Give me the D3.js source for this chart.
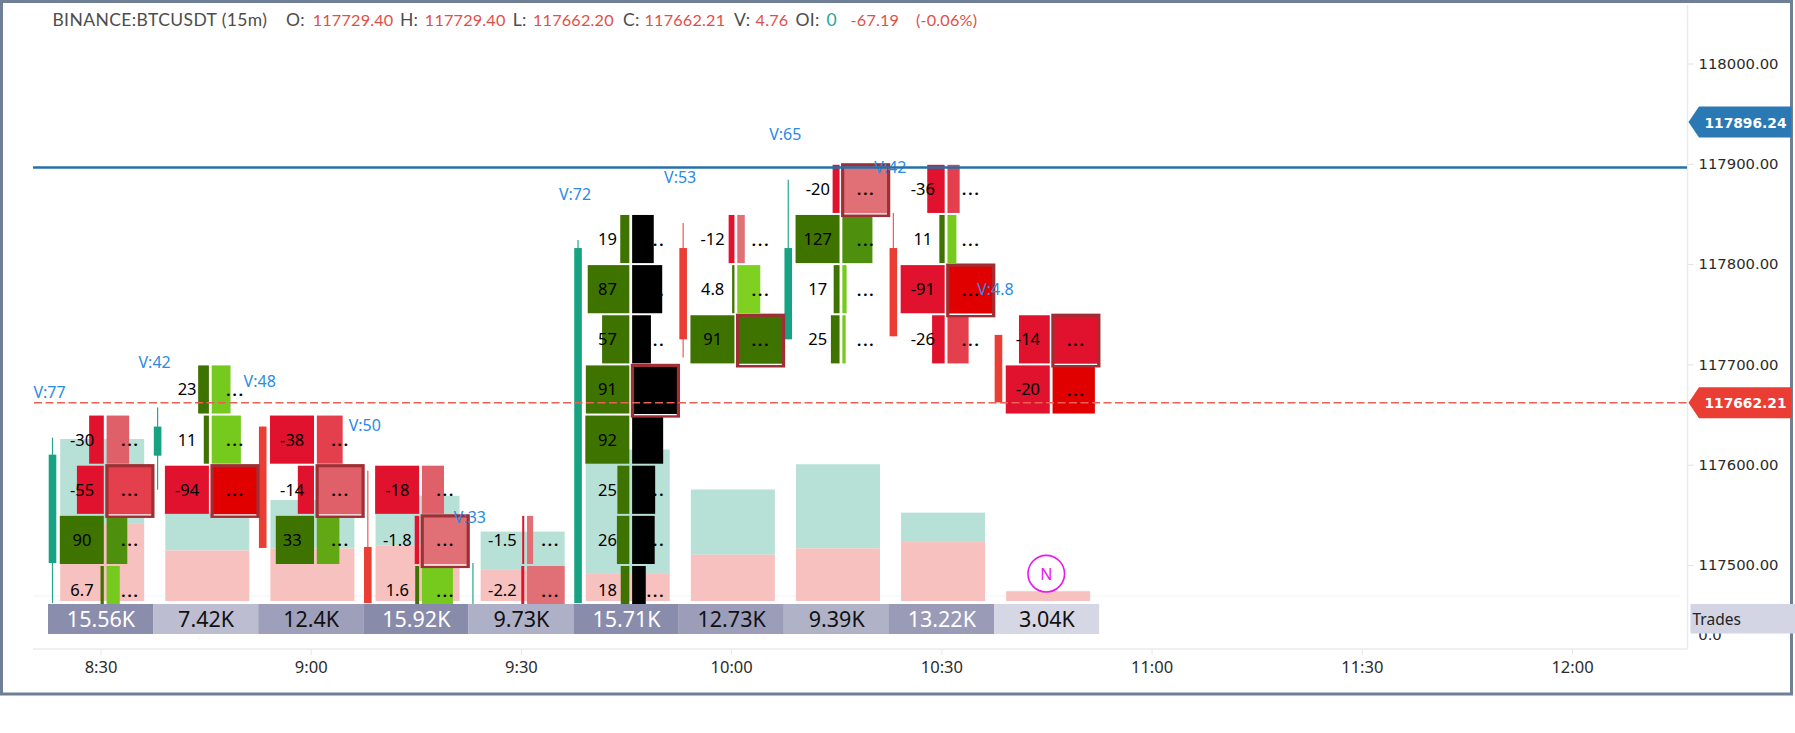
<!DOCTYPE html>
<html><head><meta charset="utf-8">
<script src="https://cdn.jsdelivr.net/npm/d3@7/dist/d3.min.js"></script>
<style>html,body{margin:0;padding:0;background:#fff}svg{display:block}text{font-family:"Noto Sans",sans-serif}</style>
</head><body><svg id="c" width="1795" height="733"></svg>
<script>
// ---- data ----
const barStart = [495,510,525,540,555,570,585,600,615,630];   // minutes since midnight
const open  = [117502,117609,117638,117518,117450,117462,117816,117725,117816,117729.4];
const close = [117610,117638,117517,117462,117458,117816,117725,117816,117728,117662.21];
const high  = [117627,117657,117638,117594,117502,117824,117841,117884,117851,117729.4];
const low   = [117462,117575,117517,117462,117450,117462,117707,117725,117728,117662.21];
const volumeTotal = [77,42,48,50,33,72,53,65,42,4.8];
const volumeLabels = ["77","42","48","50","33","72","53","65","42","4.8"];
const volumeSell  = [37,24,25,26.3,14.8,12.9,22,25,28,4.4];
const tradesK = [15.56,7.42,12.4,15.92,9.73,15.71,12.73,9.39,13.22,3.04];
const deltaMax = [90,94,38,18,33,92,91,127,91,20];
// footprint cells (parallel lists)
const cellBar   = [0,0,0,0, 1,1,1, 2,2,2, 3,3,3, 4,4, 5,5,5,5,5,5,5,5, 6,6,6, 7,7,7,7, 8,8,8,8, 9,9];
const cellPrice = [117625,117575,117525,117475, 117675,117625,117575, 117625,117575,117525, 117575,117525,117475, 117525,117475,
  117825,117775,117725,117675,117625,117575,117525,117475, 117825,117775,117725, 117875,117825,117775,117725, 117875,117825,117775,117725, 117725,117675];
const cellDelta = [-30,-55,90,6.7, 23,11,-94, -38,-14,33, -18,-1.8,1.6, -1.5,-2.2, 19,87,57,91,92,25,26,18, -12,4.8,91, -20,127,17,25, -36,11,-91,-26, -14,-20];
const cellLabel = ["-30","-55","90","6.7","23","11","-94","-38","-14","33","-18","-1.8","1.6","-1.5","-2.2","19","87","57","91","92","25","26","18","-12","4.8","91","-20","127","17","25","-36","11","-91","-26","-14","-20"];
const cellAsk   = [48,100,44,28, 40,62,100, 55,100,48, 47,100,66, 13,80, 46,64,40,100,66,49,48,29, 16,49,100, 100,64,9,7, 26,19,100,45, 100,90];
const cellShade = ["r3","r2","g2","g4", "g4","g4","r0", "r2","r3","g3", "r3","r4","g4", "r4","r4", "g0","g0","g0","g0","g0","g0","g0","g0", "r4","g5","g1", "r4","g2","g4","g4", "r2","g4","r0","r2", "r1","r0"];
const priceTicks = [118000,117900,117800,117700,117600,117500];
const timeTicks = [510,540,570,600,630,660,690,720];
const timeLabels = ["8:30","9:00","9:30","10:00","10:30","11:00","11:30","12:00"];
const bluePrice = 117896.24, lastPrice = 117662.21;
const headerParts = [["BINANCE:BTCUSDT (15m)","t"],["O:","t"],["117729.40","r"],["H:","t"],["117729.40","r"],["L:","t"],["117662.20","r"],["C:","t"],["117662.21","r"],["V:","t"],["4.76","r"],["OI:","t"],["0","g"],["-67.19","r"],["(-0.06%)","r"]];

// ---- scales ----
const svg = d3.select("#c");
const x = d3.scaleLinear([510,720],[100.5,1572]);
const y = d3.scaleLinear([118000,117500],[63.5,565]);
const vY = d3.scaleLinear([0,77],[601,439]);
const cx = i => x(barStart[i]+8.15);
const shades = {g0:"#000000",g1:"#3f7300",g2:"#4e8f0d",g3:"#62a815",g4:"#76c91d",g5:"#7fd020",
                r0:"#e00000",r1:"#e1122e",r2:"#e33f4d",r3:"#e0606a",r4:"#e07076"};
const tradeColor = d3.scaleLinear([3.04,15.92],["#d6d7e5","#898bab"]);
const idx = d3.range(barStart.length);
const FONT = '"Noto Sans",sans-serif';
const WIDE = '"DejaVu Sans",sans-serif';

// frame
svg.append("rect").attr("x",1.5).attr("y",1.5).attr("width",1790).attr("height",692.5)
  .attr("fill","#fff").attr("stroke","#6f7f96").attr("stroke-width",3);

// pane lines
svg.append("line").attr("x1",33).attr("x2",1680).attr("y1",596).attr("y2",596).attr("stroke","#f1f4f6").attr("stroke-width",1.2);

// axes
const ax = svg.append("g").attr("transform","translate(0,649)")
  .call(d3.axisBottom(x).tickValues(timeTicks).tickFormat((d,i)=>timeLabels[i]).tickSize(6).tickPadding(6));
ax.select(".domain").remove();
ax.selectAll("line").attr("stroke","#e4e6ea");
ax.selectAll("text").attr("fill","#2b2b2b").style("font-family",FONT).style("font-size","16.5px");
svg.append("line").attr("x1",33).attr("x2",1687).attr("y1",649).attr("y2",649).attr("stroke","#e9ebee").attr("stroke-width",1.5);
svg.append("line").attr("x1",1687.5).attr("x2",1687.5).attr("y1",5).attr("y2",649).attr("stroke","#e9ebee").attr("stroke-width",1.5);

const ay = svg.append("g").attr("transform","translate(1687.5,0)")
  .call(d3.axisRight(y).tickValues(priceTicks).tickFormat(d3.format(".2f")).tickSize(6).tickPadding(5));
ay.select(".domain").remove();
ay.selectAll("line").attr("stroke","#e0e2e6");
ay.selectAll("text").attr("fill","#2b2b2b").style("font-family",WIDE).style("font-size","14.8px");
svg.append("text").attr("x",1710).attr("y",640).attr("text-anchor","middle").attr("fill","#2b2b2b").style("font-family",WIDE).style("font-size","14.8px").text("0.0");

// volume stacks
const vol = svg.append("g");
vol.selectAll(".buy").data(idx).join("rect").attr("x",i=>cx(i)+7.7).attr("width",84)
  .attr("y",i=>vY(volumeTotal[i])).attr("height",i=>vY(volumeSell[i])-vY(volumeTotal[i])).attr("fill","#b7e0d7");
vol.selectAll(".sell").data(idx).join("rect").attr("x",i=>cx(i)+7.7).attr("width",84)
  .attr("y",i=>vY(volumeSell[i])).attr("height",i=>vY(0)-vY(volumeSell[i])).attr("fill","#f7c1bf");

// candles
const cG = svg.append("g");
cG.selectAll("line").data(idx).join("line").attr("x1",cx).attr("x2",cx)
  .attr("y1",i=>y(high[i])).attr("y2",i=>y(low[i])).attr("stroke",i=>close[i]>=open[i]?"#26a58d":"#ee5a50").attr("stroke-width",1.2);
cG.selectAll("rect").data(idx).join("rect").attr("x",i=>cx(i)-3.8).attr("width",7.6)
  .attr("y",i=>y(Math.max(open[i],close[i]))).attr("height",i=>Math.max(1,y(Math.min(open[i],close[i]))-y(Math.max(open[i],close[i]))))
  .attr("fill",i=>close[i]>=open[i]?"#17a383":"#ea3d33");

// footprint
const cells = cellBar.map((b,k)=>({b,price:cellPrice[k],delta:cellDelta[k],label:cellLabel[k],ask:cellAsk[k],shade:cellShade[k]}));
const askW = d3.scaleLinear([0,100],[0,47]);
const div = b => cx(b)+52.7;
const fp = svg.append("g");
fp.selectAll(".bid").data(cells).join("rect").attr("class","bid")
  .attr("x",d=>div(d.b)-1.4-d3.scaleLinear([0,deltaMax[d.b]],[0,44])(Math.abs(d.delta)))
  .attr("width",d=>d3.scaleLinear([0,deltaMax[d.b]],[0,44])(Math.abs(d.delta)))
  .attr("y",d=>y(d.price+24)).attr("height",d=>y(d.price-24)-y(d.price+24))
  .attr("fill",d=>d.delta>=0?"#3f7300":"#e1122e");
fp.selectAll(".ask").data(cells.filter(d=>d.ask<100)).join("rect").attr("class","ask")
  .attr("x",d=>div(d.b)+1.4).attr("width",d=>askW(d.ask))
  .attr("y",d=>y(d.price+24)).attr("height",d=>y(d.price-24)-y(d.price+24))
  .attr("fill",d=>shades[d.shade]);
const poc = cells.filter(d=>d.ask===100);
fp.selectAll(".poc").data(poc).join("rect").attr("class","poc")
  .attr("x",d=>div(d.b)+1.7).attr("width",d=>askW(d.ask)-1)
  .attr("y",d=>y(d.price+24)).attr("height",d=>y(d.price-24)-y(d.price+24)+2.5)
  .attr("fill",d=>shades[d.shade]).attr("stroke","#a02f35").attr("stroke-width",3.2);
fp.selectAll(".pocl").data(poc).join("line").attr("class","pocl")
  .attr("x1",d=>div(d.b)+3.4).attr("x2",d=>div(d.b)+1.7+askW(d.ask)-2.7)
  .attr("y1",d=>y(d.price-24)+1).attr("y2",d=>y(d.price-24)+1).attr("stroke","#fff").attr("stroke-width",1.3);
fp.selectAll(".num").data(cells).join("text").attr("class","num")
  .attr("x",d=>cx(d.b)+29.5).attr("y",d=>y(d.price)+6).attr("text-anchor","middle")
  .attr("fill","#000").style("font-size","16.5px").text(d=>d.label);
fp.selectAll(".dots").data(cells).join("text").attr("class","dots")
  .attr("x",d=>cx(d.b)+78).attr("y",d=>y(d.price)+6.5).attr("text-anchor","middle")
  .attr("fill","#000").style("font-size","15px").style("font-weight","700").style("letter-spacing","2px").text("...");

// volume labels
svg.append("g").selectAll("text").data(idx).join("text")
  .attr("x",i=>cx(i)-3).attr("y",i=>y(high[i])-40).attr("text-anchor","middle")
  .attr("fill","#2a8ae5").style("font-size","16px").text(i=>"V:"+volumeLabels[i]);

// trades strip
const tr = svg.append("g");
tr.selectAll("rect").data(idx).join("rect").attr("x",i=>cx(i)-4.5).attr("width",105.2).attr("y",604).attr("height",30)
  .attr("fill",i=>tradeColor(tradesK[i]));
tr.selectAll("text").data(idx).join("text").attr("x",i=>cx(i)+48.5).attr("y",627).attr("text-anchor","middle")
  .attr("fill",i=>tradesK[i]>13?"#fff":"#111").style("font-size","21.5px").text(i=>tradesK[i]+"K");
svg.append("rect").attr("x",1690.5).attr("y",604).attr("width",104.5).attr("height",29.5).attr("fill","#d3d5e4");
svg.append("text").attr("x",1692.5).attr("y",625).attr("fill","#222").style("font-size","15.5px").text("Trades");

// "N" marker
svg.append("circle").attr("cx",cx(9)+47.8).attr("cy",573.7).attr("r",18.3).attr("fill","none").attr("stroke","#ee14ee").attr("stroke-width",1.6);
svg.append("text").attr("x",cx(9)+47.8).attr("y",579.5).attr("text-anchor","middle").attr("fill","#ee14ee").style("font-size","16px").text("N");

// price lines
svg.append("line").attr("x1",33).attr("x2",1687).attr("y1",y(bluePrice)).attr("y2",y(bluePrice)).attr("stroke","#2470a8").attr("stroke-width",2.6);
svg.append("line").attr("x1",34).attr("x2",1687).attr("y1",y(lastPrice)+0.5).attr("y2",y(lastPrice)+0.5).attr("stroke","#ea5f56").attr("stroke-width",1.5).attr("stroke-dasharray","8,3.5");

// price tags
function tag(cy,fill,txt){
  svg.append("path").attr("d",d3.line()([[1688.5,cy],[1699,cy-15.5],[1791.5,cy-15.5],[1791.5,cy+15.5],[1699,cy+15.5]])+"Z").attr("fill",fill);
  svg.append("text").attr("x",1745.5).attr("y",cy+5.5).attr("text-anchor","middle").attr("fill","#fff")
    .style("font-family",WIDE).style("font-size","13.8px").style("font-weight","700").text(txt);
}
tag(y(bluePrice)-45.5,"#2a79b5",bluePrice.toFixed(2));
tag(y(lastPrice)+0.5,"#ea3d33",lastPrice.toFixed(2));

// header
const headerX=[52.4,286,312.7,400,424.8,512.8,533,623,644.5,734,755.6,795.6,826.5,850.6,916];
const hc={t:"#4d4d4d",r:"#df4f49",g:"#26a69a"};
svg.append("g").selectAll("text").data(headerParts).join("text")
  .attr("x",(d,i)=>headerX[i]).attr("y",25.5).attr("fill",d=>hc[d[1]])
  .style("font-family","Lato,sans-serif")
  .style("font-size",d=>d[1]==="r"?"16.2px":"17.5px")
  .style("letter-spacing",(d,i)=>i===0?"0.4px":"0.2px").text(d=>d[0]);
</script></body></html>
